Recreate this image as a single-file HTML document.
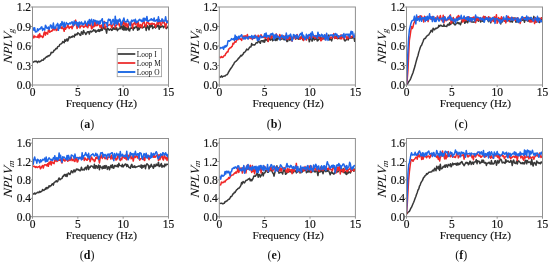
<!DOCTYPE html>
<html><head><meta charset="utf-8"><style>
html,body{margin:0;padding:0;background:#fff;width:550px;height:265px;overflow:hidden}
svg{display:block}
.tk{font-family:"Liberation Serif",serif;font-size:11.5px;fill:#111;stroke:#111;stroke-width:0.18px}
.xl{font-family:"Liberation Serif",serif;font-size:11.3px;fill:#111;stroke:#111;stroke-width:0.15px}
.yl{font-family:"Liberation Serif",serif;font-size:12.5px;letter-spacing:0.1px;fill:#111}
.sb{font-size:8.5px;letter-spacing:0}
.pl{font-family:"Liberation Serif",serif;font-size:12px;fill:#111}
.lg{font-family:"Liberation Serif",serif;font-size:7.4px;fill:#111}
</style></head><body>
<svg width="550" height="265" viewBox="0 0 550 265">
<rect width="550" height="265" fill="#fff"/>
<clipPath id="ca"><rect x="32.5" y="7.0" width="136.0" height="78.0"/></clipPath>
<polyline clip-path="url(#ca)" points="32.5,61.99 33.22,62.15 33.94,61.73 34.66,61.28 35.38,61.53 36.1,61.13 36.82,61.8 37.54,62.62 38.26,61.35 38.98,61.22 39.7,61.9 40.42,61.46 41.13,60.95 41.85,60 42.57,60.13 43.29,60.18 44.01,58.62 44.73,58.78 45.45,57.54 46.17,57.32 46.89,56.42 47.61,56.74 48.33,55.57 49.05,55.89 49.77,55.25 50.49,54.4 51.21,52.33 51.93,52.83 52.65,52.45 53.37,51.88 54.09,50.14 54.81,50.15 55.53,49.06 56.25,48.34 56.97,48.74 57.69,46.69 58.4,46.39 59.12,46.22 59.84,44.34 60.56,44.1 61.28,43.76 62,43.18 62.72,41.52 63.44,42.12 64.16,42.74 64.88,39.57 65.6,41.28 66.32,40.08 67.04,38.85 67.76,40.9 68.48,39.2 69.2,36.76 69.92,37.52 70.64,37.71 71.36,36.52 72.08,37.16 72.8,35.97 73.52,36.47 74.24,37.03 74.96,34.2 75.67,35.11 76.39,34.07 77.11,34.72 77.83,32.8 78.55,33.48 79.27,33.85 79.99,35.2 80.71,35.38 81.43,31.87 82.15,32.44 82.87,34.26 83.59,30.48 84.31,32.43 85.03,32.78 85.75,34.5 86.47,33.57 87.19,32 87.91,31.79 88.63,31.8 89.35,34.14 90.07,31.24 90.79,31.26 91.51,32.04 92.22,31.22 92.94,30.95 93.66,29.49 94.38,30.91 95.1,30.14 95.82,32.31 96.54,31.42 97.26,30.29 97.98,31.14 98.7,29.52 99.42,31.42 100.14,29.73 100.86,30.66 101.58,27.6 102.3,30.22 103.02,26.9 103.74,26.31 104.46,29.08 105.18,28.09 105.9,29.78 106.62,33.13 107.34,28.11 108.06,28.42 108.78,29.74 109.49,30.18 110.21,29.06 110.93,28.99 111.65,30.44 112.37,30.11 113.09,27.55 113.81,29.08 114.53,29.24 115.25,27.43 115.97,29.55 116.69,27.7 117.41,30.66 118.13,29.36 118.85,29.16 119.57,28.02 120.29,28.76 121.01,25.66 121.73,27.05 122.45,29.47 123.17,25.35 123.89,30.21 124.61,25.93 125.33,29.99 126.04,27.34 126.76,29.95 127.48,28.86 128.2,26.09 128.92,30.61 129.64,30.89 130.36,28.39 131.08,28.01 131.8,28.16 132.52,26.78 133.24,30.15 133.96,27.41 134.68,28.18 135.4,26.92 136.12,27.16 136.84,26.05 137.56,30.19 138.28,27.83 139,29.64 139.72,28.03 140.44,26.82 141.16,27.39 141.88,26.96 142.6,27.87 143.31,27.19 144.03,27.28 144.75,25.45 145.47,26.36 146.19,30.42 146.91,26.51 147.63,25.84 148.35,28.12 149.07,29.86 149.79,25.05 150.51,27.09 151.23,26.35 151.95,24.42 152.67,28.56 153.39,27.25 154.11,27.37 154.83,25.95 155.55,27.94 156.27,26.23 156.99,26.86 157.71,25.2 158.43,24.98 159.15,29.24 159.87,26.1 160.58,27.41 161.3,26.82 162.02,26.09 162.74,25.94 163.46,27.83 164.18,26.22 164.9,26.43 165.62,26.69 166.34,28.61 167.06,27.73 167.78,27.19 168.5,25.54" fill="none" stroke="#383838" stroke-width="1.5" stroke-linejoin="round"/>
<polyline clip-path="url(#ca)" points="32.5,34.35 33.22,37.69 33.94,37.63 34.66,35.91 35.38,36.83 36.1,37.1 36.82,37.09 37.54,37.14 38.26,35 38.98,37.85 39.7,33.64 40.42,36.7 41.13,36.01 41.85,36.31 42.57,37.5 43.29,36.76 44.01,32.88 44.73,31.9 45.45,35.17 46.17,32.42 46.89,33.35 47.61,34.1 48.33,30.5 49.05,29.51 49.77,32.28 50.49,31.69 51.21,31.03 51.93,31.21 52.65,29.65 53.37,28.45 54.09,30.18 54.81,28.75 55.53,27.49 56.25,30.47 56.97,29.39 57.69,29.87 58.4,27.51 59.12,27.78 59.84,27.02 60.56,26.92 61.28,28.48 62,26.72 62.72,28.61 63.44,28.5 64.16,31.34 64.88,25.32 65.6,29.2 66.32,27.42 67.04,27.47 67.76,24.88 68.48,26.52 69.2,28.55 69.92,27.02 70.64,27.17 71.36,26.4 72.08,28.72 72.8,26.58 73.52,22.73 74.24,25.16 74.96,22.72 75.67,20.14 76.39,25.14 77.11,28.59 77.83,26.16 78.55,23.85 79.27,24.25 79.99,28.1 80.71,26.25 81.43,26.02 82.15,25.8 82.87,25.94 83.59,27.35 84.31,26.85 85.03,26.19 85.75,23.8 86.47,26.69 87.19,24.41 87.91,27.73 88.63,23.25 89.35,25.36 90.07,25.57 90.79,23.06 91.51,28.78 92.22,28.26 92.94,24.6 93.66,26.9 94.38,26.13 95.1,20.45 95.82,25.84 96.54,25.22 97.26,25.46 97.98,23.24 98.7,24.74 99.42,24.88 100.14,27.45 100.86,25.81 101.58,25.14 102.3,28.04 103.02,24.04 103.74,24.34 104.46,21.59 105.18,28.03 105.9,26.86 106.62,26.75 107.34,26.25 108.06,25.16 108.78,25.34 109.49,24.42 110.21,24.49 110.93,24.96 111.65,27.73 112.37,25.88 113.09,24.68 113.81,23.66 114.53,23.53 115.25,27.8 115.97,25.67 116.69,24.81 117.41,23.99 118.13,22.5 118.85,24.48 119.57,26.27 120.29,23.81 121.01,24.11 121.73,24.1 122.45,24.71 123.17,21.4 123.89,24 124.61,22.78 125.33,26.12 126.04,22.9 126.76,25.5 127.48,27.32 128.2,23.73 128.92,23.16 129.64,24.68 130.36,24.29 131.08,22.34 131.8,25.15 132.52,28.16 133.24,23.72 133.96,23.81 134.68,22.15 135.4,24.79 136.12,21.73 136.84,21.98 137.56,26.61 138.28,22.34 139,26.19 139.72,27.04 140.44,24.56 141.16,25.11 141.88,27.83 142.6,23.62 143.31,22.82 144.03,21.32 144.75,24.03 145.47,26.82 146.19,25.79 146.91,22.05 147.63,22.21 148.35,22.88 149.07,24.42 149.79,23.43 150.51,24.23 151.23,24.37 151.95,23.19 152.67,23.68 153.39,24.15 154.11,23.56 154.83,24.69 155.55,27.36 156.27,24.83 156.99,23.76 157.71,20.33 158.43,24.38 159.15,19.78 159.87,20.82 160.58,25.25 161.3,24.94 162.02,23.24 162.74,20.15 163.46,22.77 164.18,22.15 164.9,24.72 165.62,27.9 166.34,23.86 167.06,21.88 167.78,21.09 168.5,23.27" fill="none" stroke="#f02828" stroke-width="1.5" stroke-linejoin="round"/>
<polyline clip-path="url(#ca)" points="32.5,29.74 33.22,27.86 33.94,30.19 34.66,27.76 35.38,31.97 36.1,31.83 36.82,31.83 37.54,28.83 38.26,30.65 38.98,29.38 39.7,28.84 40.42,28.9 41.13,27.16 41.85,26.81 42.57,30.39 43.29,28.51 44.01,29 44.73,30.15 45.45,25.18 46.17,26.65 46.89,28.24 47.61,28.49 48.33,26.95 49.05,29.37 49.77,27.73 50.49,25 51.21,25.33 51.93,28.27 52.65,27.47 53.37,23.02 54.09,28.72 54.81,27.19 55.53,28.42 56.25,25.06 56.97,25.11 57.69,23.39 58.4,30.32 59.12,24.98 59.84,28.26 60.56,23.8 61.28,25.32 62,21.49 62.72,24.12 63.44,26.92 64.16,22.24 64.88,27.04 65.6,25.47 66.32,22.56 67.04,23.66 67.76,23.71 68.48,24.52 69.2,23.47 69.92,22.86 70.64,23.86 71.36,22.32 72.08,21.7 72.8,24.1 73.52,25.88 74.24,20.93 74.96,23.93 75.67,22.51 76.39,21.77 77.11,25.61 77.83,22.67 78.55,26.91 79.27,22.05 79.99,24.49 80.71,23.15 81.43,22 82.15,24.82 82.87,23.21 83.59,24.78 84.31,23.37 85.03,21.12 85.75,23.18 86.47,23.48 87.19,25.38 87.91,21.36 88.63,23.18 89.35,19.55 90.07,24.59 90.79,20.85 91.51,19.26 92.22,22.97 92.94,25.43 93.66,19.76 94.38,20.66 95.1,21.36 95.82,20.5 96.54,23.71 97.26,21.12 97.98,21.27 98.7,24.04 99.42,21.13 100.14,23.66 100.86,20.59 101.58,20.04 102.3,18.66 103.02,26.72 103.74,21.93 104.46,23.15 105.18,22.53 105.9,22.93 106.62,22.67 107.34,26.71 108.06,20.25 108.78,19.09 109.49,20.27 110.21,19.54 110.93,24.08 111.65,24.22 112.37,20.3 113.09,19.34 113.81,21.59 114.53,25.4 115.25,16.14 115.97,23.47 116.69,19.93 117.41,24.56 118.13,19.89 118.85,21.61 119.57,18.91 120.29,20.05 121.01,25.23 121.73,23.97 122.45,21.26 123.17,20.21 123.89,17.94 124.61,21.22 125.33,22 126.04,21.85 126.76,21.79 127.48,19.51 128.2,21.78 128.92,21.81 129.64,24.68 130.36,25.9 131.08,21.49 131.8,20.08 132.52,21.58 133.24,20.35 133.96,20.02 134.68,21.49 135.4,19.29 136.12,22.88 136.84,21.29 137.56,22.03 138.28,21.04 139,19.81 139.72,19.29 140.44,20.82 141.16,20.1 141.88,21.79 142.6,21.23 143.31,18.2 144.03,21.32 144.75,18.17 145.47,19.74 146.19,20.42 146.91,16.44 147.63,21.2 148.35,21.3 149.07,20.58 149.79,19.95 150.51,20.03 151.23,18.66 151.95,20.19 152.67,19.53 153.39,20.93 154.11,18.01 154.83,21.18 155.55,20.94 156.27,20.27 156.99,19.57 157.71,21.75 158.43,16.77 159.15,21.48 159.87,20.96 160.58,21.01 161.3,21.2 162.02,18.85 162.74,19.69 163.46,21.67 164.18,21.17 164.9,20.64 165.62,16.74 166.34,21.31 167.06,22.7 167.78,22.3 168.5,20.53" fill="none" stroke="#1f66e8" stroke-width="1.5" stroke-linejoin="round"/>
<rect x="32.5" y="7.0" width="136.0" height="78.0" fill="none" stroke="#909090" stroke-width="1"/>
<line x1="30.5" y1="85" x2="32.5" y2="85" stroke="#909090" stroke-width="1"/>
<text x="31" y="89.1" text-anchor="end" class="tk">0.0</text>
<line x1="30.5" y1="65.5" x2="32.5" y2="65.5" stroke="#909090" stroke-width="1"/>
<text x="31" y="69.6" text-anchor="end" class="tk">0.3</text>
<line x1="30.5" y1="46" x2="32.5" y2="46" stroke="#909090" stroke-width="1"/>
<text x="31" y="50.1" text-anchor="end" class="tk">0.6</text>
<line x1="30.5" y1="26.5" x2="32.5" y2="26.5" stroke="#909090" stroke-width="1"/>
<text x="31" y="30.6" text-anchor="end" class="tk">0.9</text>
<line x1="30.5" y1="7" x2="32.5" y2="7" stroke="#909090" stroke-width="1"/>
<text x="31" y="11.1" text-anchor="end" class="tk">1.2</text>
<line x1="32.5" y1="85.0" x2="32.5" y2="87.0" stroke="#909090" stroke-width="1"/>
<text x="32.5" y="96.2" text-anchor="middle" class="tk">0</text>
<line x1="77.83" y1="85.0" x2="77.83" y2="87.0" stroke="#909090" stroke-width="1"/>
<text x="77.83" y="96.2" text-anchor="middle" class="tk">5</text>
<line x1="123.17" y1="85.0" x2="123.17" y2="87.0" stroke="#909090" stroke-width="1"/>
<text x="123.17" y="96.2" text-anchor="middle" class="tk">10</text>
<line x1="168.5" y1="85.0" x2="168.5" y2="87.0" stroke="#909090" stroke-width="1"/>
<text x="168.5" y="96.2" text-anchor="middle" class="tk">15</text>
<text x="101.3" y="107" text-anchor="middle" class="xl">Frequency (Hz)</text>
<text transform="translate(11.7,46.5) rotate(-90) skewX(-16)" text-anchor="middle" class="yl">NPLV<tspan class="sb" dy="1.8" dx="-0.8">g</tspan></text>
<text x="87.2" y="127.5" text-anchor="middle" class="pl">(<tspan font-weight="bold">a</tspan>)</text>
<clipPath id="cb"><rect x="219.3" y="7.0" width="136.09999999999997" height="78.0"/></clipPath>
<polyline clip-path="url(#cb)" points="219.3,76.29 220.02,77.34 220.74,76.88 221.46,75.88 222.18,77.1 222.9,76.38 223.62,76.25 224.34,76.01 225.06,76.12 225.78,75.16 226.5,74.88 227.22,74.5 227.94,73.35 228.66,71.89 229.38,70.78 230.1,69.45 230.82,68.46 231.54,67.56 232.26,66.38 232.98,65.12 233.7,64.22 234.42,62.51 235.14,61.96 235.86,61.48 236.58,60.61 237.3,60.03 238.02,58.96 238.74,57.97 239.46,57.69 240.18,56.32 240.9,55.32 241.62,55.92 242.34,54.84 243.06,54.34 243.78,52.44 244.5,52.51 245.22,51.64 245.94,50.75 246.66,49.13 247.38,49.64 248.1,49.74 248.82,48.69 249.54,47.29 250.26,46.98 250.98,46.84 251.7,43.46 252.42,45.05 253.14,45.09 253.87,44.7 254.59,45.07 255.31,44.08 256.03,42.87 256.75,42.58 257.47,42.89 258.19,41.23 258.91,41.55 259.63,42.36 260.35,43.3 261.07,40.74 261.79,40.64 262.51,40.71 263.23,42.09 263.95,40.3 264.67,42.12 265.39,38.97 266.11,39.89 266.83,39.8 267.55,40.98 268.27,41.24 268.99,37.93 269.71,38.61 270.43,40.12 271.15,38.78 271.87,37.6 272.59,40.79 273.31,40.02 274.03,39.94 274.75,38.62 275.47,40.47 276.19,38.76 276.91,40.48 277.63,37.77 278.35,37.82 279.07,39.2 279.79,37.95 280.51,39.76 281.23,39.17 281.95,37.55 282.67,38.86 283.39,38.25 284.11,39.92 284.83,37.81 285.55,38.03 286.27,40.22 286.99,41.57 287.71,41.22 288.43,38.58 289.15,38.75 289.87,40.5 290.59,38.22 291.31,37.03 292.03,38.49 292.75,38.95 293.47,37.17 294.19,36.03 294.91,36.32 295.63,39.24 296.35,37.26 297.07,38.11 297.79,38.6 298.51,39.16 299.23,37.83 299.95,38.99 300.67,37.06 301.39,37.79 302.11,36.86 302.83,39.86 303.55,38.24 304.27,37.25 304.99,37.79 305.71,37.97 306.43,39.24 307.15,36.05 307.87,36.82 308.59,37.74 309.31,41.78 310.03,39.59 310.75,38.1 311.47,39.24 312.19,41.11 312.91,37.92 313.63,37.73 314.35,39.92 315.07,38.92 315.79,39.17 316.51,37.52 317.23,40.9 317.95,40.6 318.67,39.01 319.39,39.17 320.11,35.39 320.83,39.1 321.56,37.94 322.28,38.81 323,39.15 323.72,37.72 324.44,35.84 325.16,38.71 325.88,37.16 326.6,37.73 327.32,37.34 328.04,37.71 328.76,34.96 329.48,39.87 330.2,38.53 330.92,39.72 331.64,40.93 332.36,38.2 333.08,35.65 333.8,36.91 334.52,36.47 335.24,37.45 335.96,38.26 336.68,35.36 337.4,38.62 338.12,36.03 338.84,38.55 339.56,37.98 340.28,37.69 341,38.03 341.72,37.37 342.44,37.27 343.16,35.77 343.88,38.08 344.6,40.69 345.32,40.87 346.04,39.95 346.76,39.09 347.48,37.16 348.2,40.11 348.92,38.02 349.64,38 350.36,37.68 351.08,38.22 351.8,37.48 352.52,37.96 353.24,36.56 353.96,37.55 354.68,41.26 355.4,37.97" fill="none" stroke="#383838" stroke-width="1.5" stroke-linejoin="round"/>
<polyline clip-path="url(#cb)" points="219.3,56.59 220.02,57.4 220.74,57.72 221.46,56.43 222.18,57.34 222.9,57.39 223.62,56.31 224.34,55.5 225.06,55.57 225.78,53.42 226.5,53.01 227.22,51.7 227.94,52.02 228.66,48.87 229.38,48.72 230.1,47.84 230.82,47.73 231.54,46.77 232.26,46.41 232.98,43.24 233.7,44.07 234.42,42.44 235.14,41.53 235.86,42.22 236.58,40.23 237.3,38.51 238.02,39.65 238.74,37.87 239.46,38.21 240.18,39.3 240.9,39.03 241.62,40.54 242.34,37.96 243.06,35.98 243.78,36.8 244.5,36.3 245.22,35.68 245.94,38.23 246.66,36.52 247.38,34.42 248.1,38.62 248.82,37.35 249.54,38.08 250.26,37.68 250.98,38.5 251.7,37.56 252.42,39.44 253.14,38.16 253.87,38.11 254.59,38.13 255.31,35.19 256.03,37.21 256.75,37.06 257.47,37.79 258.19,35.32 258.91,40.03 259.63,37.61 260.35,35.54 261.07,34.75 261.79,36.99 262.51,37.29 263.23,36.29 263.95,37.57 264.67,36.41 265.39,38.28 266.11,36.26 266.83,37.34 267.55,38.94 268.27,41.45 268.99,35.8 269.71,36.65 270.43,36.05 271.15,38.61 271.87,35.56 272.59,36.6 273.31,37.31 274.03,35.81 274.75,35.84 275.47,36.59 276.19,34.02 276.91,35.05 277.63,36.68 278.35,37.56 279.07,37.03 279.79,34.52 280.51,36.58 281.23,38.58 281.95,38.19 282.67,37.18 283.39,35.9 284.11,38.3 284.83,36.38 285.55,35.44 286.27,36.02 286.99,39.57 287.71,37.63 288.43,39.11 289.15,36.51 289.87,38.75 290.59,36.31 291.31,37.01 292.03,41.19 292.75,38.46 293.47,36.45 294.19,37.11 294.91,37.75 295.63,39.15 296.35,36.45 297.07,34.47 297.79,36.78 298.51,37.24 299.23,37.39 299.95,39.3 300.67,37.71 301.39,38.49 302.11,35.45 302.83,38.57 303.55,40.51 304.27,38.41 304.99,37.58 305.71,37.42 306.43,40.01 307.15,35.7 307.87,36.99 308.59,37.89 309.31,38.34 310.03,36.46 310.75,37.64 311.47,36.7 312.19,37.33 312.91,36.93 313.63,35.32 314.35,37.1 315.07,38.52 315.79,35.59 316.51,36.73 317.23,38.17 317.95,35.41 318.67,37.39 319.39,35.42 320.11,38.9 320.83,40.77 321.56,40.3 322.28,36.74 323,38.26 323.72,37.27 324.44,37.23 325.16,39.53 325.88,34.97 326.6,38.74 327.32,36.98 328.04,39.29 328.76,37.35 329.48,35.97 330.2,37.48 330.92,38.21 331.64,37.09 332.36,37.8 333.08,36.19 333.8,33.63 334.52,38.45 335.24,38.12 335.96,37.24 336.68,37.11 337.4,38.65 338.12,36.27 338.84,35.87 339.56,36.69 340.28,38.88 341,34.77 341.72,38.87 342.44,35.95 343.16,35.22 343.88,38.97 344.6,36.81 345.32,34.89 346.04,36.38 346.76,38.43 347.48,38.84 348.2,36.26 348.92,37.58 349.64,38.07 350.36,35.9 351.08,37.49 351.8,36.87 352.52,36.06 353.24,36.13 353.96,37.01 354.68,36.95 355.4,36" fill="none" stroke="#f02828" stroke-width="1.5" stroke-linejoin="round"/>
<polyline clip-path="url(#cb)" points="219.3,47.35 220.02,48.76 220.74,47.46 221.46,47.9 222.18,47.89 222.9,46.99 223.62,49.25 224.34,46.1 225.06,47.26 225.78,45.6 226.5,46.44 227.22,45.11 227.94,41.01 228.66,40.74 229.38,41.21 230.1,40.46 230.82,40.06 231.54,38.6 232.26,39.08 232.98,39.5 233.7,38.45 234.42,40.46 235.14,35.12 235.86,39.32 236.58,36.64 237.3,39.42 238.02,37.43 238.74,36.18 239.46,38.17 240.18,35.95 240.9,35.88 241.62,34.71 242.34,37.24 243.06,38.06 243.78,38.93 244.5,36.9 245.22,38.99 245.94,37.17 246.66,36.96 247.38,38.13 248.1,38.98 248.82,36.49 249.54,36.66 250.26,36.8 250.98,37.22 251.7,35.47 252.42,38.88 253.14,36.34 253.87,37.86 254.59,35.57 255.31,37.66 256.03,37.71 256.75,36.26 257.47,40.58 258.19,37.64 258.91,40.13 259.63,38.67 260.35,35.78 261.07,36.27 261.79,37.72 262.51,37.04 263.23,37.01 263.95,36.41 264.67,33.69 265.39,36.5 266.11,32.95 266.83,37.54 267.55,35.58 268.27,35.59 268.99,36.46 269.71,37.33 270.43,34.29 271.15,33.72 271.87,34.92 272.59,33.18 273.31,35.08 274.03,39.62 274.75,34.9 275.47,37.94 276.19,34.32 276.91,37.29 277.63,36.18 278.35,36.63 279.07,37.74 279.79,39.85 280.51,37.06 281.23,36.93 281.95,34.96 282.67,37.73 283.39,36.24 284.11,38.15 284.83,36.58 285.55,39.76 286.27,33.1 286.99,36.1 287.71,38.2 288.43,35.99 289.15,35.19 289.87,36.12 290.59,34.12 291.31,36.79 292.03,40.92 292.75,38.6 293.47,34.57 294.19,34.97 294.91,35.79 295.63,38.29 296.35,35.02 297.07,35.24 297.79,38.03 298.51,37.98 299.23,35.76 299.95,34.41 300.67,33.63 301.39,35.13 302.11,32.38 302.83,37.69 303.55,35.21 304.27,37.18 304.99,39.65 305.71,38.39 306.43,34.22 307.15,37.82 307.87,38.32 308.59,34.9 309.31,34.51 310.03,36.01 310.75,33.32 311.47,38.81 312.19,31.84 312.91,34.16 313.63,35.65 314.35,35.71 315.07,36.4 315.79,36.57 316.51,35.69 317.23,38.1 317.95,32.19 318.67,36.03 319.39,34.73 320.11,36.24 320.83,36.38 321.56,34.32 322.28,34.8 323,37.37 323.72,36.55 324.44,34.68 325.16,39.58 325.88,40.05 326.6,33.22 327.32,36.4 328.04,40.37 328.76,37.24 329.48,36.21 330.2,35.41 330.92,34.8 331.64,35.38 332.36,34.75 333.08,37.08 333.8,35 334.52,34.9 335.24,33.51 335.96,35.58 336.68,34.04 337.4,35.32 338.12,37.52 338.84,36.28 339.56,36.52 340.28,36.23 341,35.68 341.72,35.32 342.44,34.98 343.16,36.91 343.88,33.54 344.6,37.94 345.32,35.54 346.04,34.1 346.76,34.56 347.48,34.2 348.2,35.71 348.92,34.1 349.64,37.48 350.36,33.95 351.08,31.22 351.8,34.01 352.52,31.67 353.24,35.25 353.96,37.24 354.68,36.47 355.4,32.83" fill="none" stroke="#1f66e8" stroke-width="1.5" stroke-linejoin="round"/>
<rect x="219.3" y="7.0" width="136.09999999999997" height="78.0" fill="none" stroke="#909090" stroke-width="1"/>
<line x1="217.3" y1="85" x2="219.3" y2="85" stroke="#909090" stroke-width="1"/>
<text x="217.8" y="89.1" text-anchor="end" class="tk">0.0</text>
<line x1="217.3" y1="65.5" x2="219.3" y2="65.5" stroke="#909090" stroke-width="1"/>
<text x="217.8" y="69.6" text-anchor="end" class="tk">0.3</text>
<line x1="217.3" y1="46" x2="219.3" y2="46" stroke="#909090" stroke-width="1"/>
<text x="217.8" y="50.1" text-anchor="end" class="tk">0.6</text>
<line x1="217.3" y1="26.5" x2="219.3" y2="26.5" stroke="#909090" stroke-width="1"/>
<text x="217.8" y="30.6" text-anchor="end" class="tk">0.9</text>
<line x1="217.3" y1="7" x2="219.3" y2="7" stroke="#909090" stroke-width="1"/>
<text x="217.8" y="11.1" text-anchor="end" class="tk">1.2</text>
<line x1="219.3" y1="85.0" x2="219.3" y2="87.0" stroke="#909090" stroke-width="1"/>
<text x="219.3" y="96.2" text-anchor="middle" class="tk">0</text>
<line x1="264.67" y1="85.0" x2="264.67" y2="87.0" stroke="#909090" stroke-width="1"/>
<text x="264.67" y="96.2" text-anchor="middle" class="tk">5</text>
<line x1="310.03" y1="85.0" x2="310.03" y2="87.0" stroke="#909090" stroke-width="1"/>
<text x="310.03" y="96.2" text-anchor="middle" class="tk">10</text>
<line x1="355.4" y1="85.0" x2="355.4" y2="87.0" stroke="#909090" stroke-width="1"/>
<text x="355.4" y="96.2" text-anchor="middle" class="tk">15</text>
<text x="288.15" y="107" text-anchor="middle" class="xl">Frequency (Hz)</text>
<text transform="translate(198.5,46.5) rotate(-90) skewX(-16)" text-anchor="middle" class="yl">NPLV<tspan class="sb" dy="1.8" dx="-0.8">g</tspan></text>
<text x="274.05" y="127.5" text-anchor="middle" class="pl">(<tspan font-weight="bold">b</tspan>)</text>
<clipPath id="cc"><rect x="406.5" y="7.0" width="136.0" height="78.0"/></clipPath>
<polyline clip-path="url(#cc)" points="406.5,84.81 407.22,84.64 407.94,83.09 408.66,81.81 409.38,80.83 410.1,79.9 410.82,78.3 411.54,76.28 412.26,74.52 412.98,72.75 413.7,70.3 414.42,67.95 415.13,65.58 415.85,62.6 416.57,59.94 417.29,57.51 418.01,55.52 418.73,52.37 419.45,50.14 420.17,47.72 420.89,45.98 421.61,45.19 422.33,43.31 423.05,41.49 423.77,39.41 424.49,38.58 425.21,38.48 425.93,37.46 426.65,36.06 427.37,35.72 428.09,35.23 428.81,34.78 429.53,33.2 430.25,32.46 430.97,30.41 431.69,30.25 432.4,31.95 433.12,28.22 433.84,29.43 434.56,29.68 435.28,28.82 436,28.14 436.72,28.45 437.44,27.99 438.16,27.42 438.88,25.34 439.6,26.35 440.32,25.23 441.04,25.32 441.76,25.99 442.48,26.26 443.2,26.37 443.92,24.62 444.64,26.18 445.36,26.37 446.08,26.23 446.8,26.43 447.52,24.49 448.24,24.35 448.96,25.44 449.67,22.7 450.39,24.49 451.11,23.49 451.83,23.59 452.55,21.82 453.27,22.76 453.99,23.74 454.71,24.76 455.43,24.79 456.15,23.39 456.87,23.16 457.59,22.27 458.31,23.7 459.03,22.82 459.75,23.64 460.47,24.81 461.19,22.55 461.91,20.65 462.63,21.21 463.35,20.33 464.07,20.48 464.79,23.34 465.51,21.88 466.22,19.61 466.94,22.09 467.66,22.68 468.38,20.55 469.1,20.01 469.82,20.25 470.54,20.98 471.26,21.41 471.98,22.08 472.7,22.07 473.42,21.98 474.14,22.17 474.86,21.18 475.58,18.2 476.3,20.02 477.02,20.56 477.74,19.58 478.46,21.27 479.18,19.5 479.9,18.7 480.62,22.02 481.34,20.93 482.06,20.31 482.78,21.3 483.49,21.49 484.21,20.48 484.93,16.56 485.65,19.05 486.37,19.36 487.09,18.62 487.81,20.28 488.53,21.67 489.25,19.32 489.97,18.41 490.69,22.84 491.41,19.37 492.13,18.27 492.85,20.33 493.57,20.6 494.29,19.01 495.01,21.11 495.73,19.32 496.45,18.71 497.17,20.25 497.89,21.08 498.61,19.11 499.33,20.46 500.04,19.87 500.76,23.95 501.48,19.01 502.2,21.94 502.92,19.93 503.64,19.82 504.36,21.01 505.08,21.25 505.8,21.77 506.52,20.46 507.24,19.16 507.96,19.25 508.68,20.71 509.4,20.81 510.12,21.96 510.84,20.59 511.56,21.48 512.28,22.12 513,20.23 513.72,17.92 514.44,18.35 515.16,17.99 515.88,22.23 516.6,18.81 517.31,21.72 518.03,20.82 518.75,22.4 519.47,21.4 520.19,19.86 520.91,19.72 521.63,20.12 522.35,20.25 523.07,19.26 523.79,19.95 524.51,22.25 525.23,17.62 525.95,20.36 526.67,18.73 527.39,20.26 528.11,21.18 528.83,19.92 529.55,21.08 530.27,17.77 530.99,21.55 531.71,19.16 532.43,20.87 533.15,20.26 533.87,16.38 534.58,18.94 535.3,20.31 536.02,22.18 536.74,20.4 537.46,20.36 538.18,18.02 538.9,22 539.62,22.53 540.34,20.04 541.06,19.69 541.78,17.73 542.5,21.24" fill="none" stroke="#383838" stroke-width="1.5" stroke-linejoin="round"/>
<polyline clip-path="url(#cc)" points="406.5,85.24 407.22,79.7 407.94,70.43 408.66,54.66 409.38,40.3 410.1,35.89 410.82,30.72 411.54,26.46 412.26,28.6 412.98,27.01 413.7,23.48 414.42,22.13 415.13,19.81 415.85,18.39 416.57,19.32 417.29,17.84 418.01,16.66 418.73,16.69 419.45,17.93 420.17,15.76 420.89,16.57 421.61,16.11 422.33,19.02 423.05,19.38 423.77,21.93 424.49,16.35 425.21,17.66 425.93,20.2 426.65,18.4 427.37,18.23 428.09,21.48 428.81,18.22 429.53,16.92 430.25,16.67 430.97,19.31 431.69,19.26 432.4,16.59 433.12,17.21 433.84,19.64 434.56,19.71 435.28,17.77 436,19.79 436.72,19.71 437.44,15.96 438.16,18.31 438.88,19.47 439.6,17.9 440.32,15.41 441.04,18.37 441.76,20.02 442.48,21.35 443.2,15.35 443.92,23 444.64,17.05 445.36,20.37 446.08,20.81 446.8,20.42 447.52,19.09 448.24,17.01 448.96,19.86 449.67,17.73 450.39,14.86 451.11,23.38 451.83,20.01 452.55,21.77 453.27,17.44 453.99,21.22 454.71,21.42 455.43,21.37 456.15,18.87 456.87,16.99 457.59,18.63 458.31,15.41 459.03,16.21 459.75,19.07 460.47,17.35 461.19,18.67 461.91,18.76 462.63,22 463.35,21 464.07,18.87 464.79,20.87 465.51,17.71 466.22,18.42 466.94,20.4 467.66,16.99 468.38,18.52 469.1,16.87 469.82,19.16 470.54,21.57 471.26,17.79 471.98,19.34 472.7,17.56 473.42,17.17 474.14,17.03 474.86,21.31 475.58,22.75 476.3,19.77 477.02,17.87 477.74,20.13 478.46,18.49 479.18,20.29 479.9,19.49 480.62,19.47 481.34,20 482.06,18.12 482.78,18.4 483.49,16.31 484.21,18.35 484.93,16.79 485.65,18.83 486.37,17.54 487.09,19.22 487.81,19.78 488.53,16.82 489.25,17.78 489.97,17.58 490.69,20.26 491.41,21.79 492.13,20.44 492.85,18.54 493.57,21.42 494.29,16.7 495.01,21.48 495.73,18.07 496.45,14.7 497.17,23.32 497.89,21.62 498.61,17.49 499.33,19.39 500.04,18.79 500.76,19.3 501.48,16.79 502.2,18.06 502.92,19.89 503.64,19.5 504.36,21.05 505.08,19.28 505.8,22.88 506.52,18.03 507.24,19.58 507.96,16.14 508.68,17.19 509.4,21.28 510.12,17.69 510.84,20.03 511.56,19.09 512.28,17.54 513,18.65 513.72,18.39 514.44,18.43 515.16,20.4 515.88,20.24 516.6,18.3 517.31,17.78 518.03,19.67 518.75,19.07 519.47,20.86 520.19,23.44 520.91,20.57 521.63,19.19 522.35,18.97 523.07,17.89 523.79,17.82 524.51,17.67 525.23,18.64 525.95,18.59 526.67,20.44 527.39,18.64 528.11,18.96 528.83,17.35 529.55,21.88 530.27,20.09 530.99,22.12 531.71,20.55 532.43,21.65 533.15,18.91 533.87,20.44 534.58,23.58 535.3,17.38 536.02,21.18 536.74,22 537.46,19.99 538.18,20.54 538.9,21.35 539.62,18.28 540.34,20 541.06,17.94 541.78,18.25 542.5,18.35" fill="none" stroke="#f02828" stroke-width="1.5" stroke-linejoin="round"/>
<polyline clip-path="url(#cc)" points="406.5,84.99 407.22,68 407.94,50.45 408.66,37.8 409.38,29.97 410.1,26.82 410.82,23.86 411.54,21.69 412.26,20.49 412.98,20.37 413.7,19.67 414.42,16.17 415.13,19.69 415.85,23.87 416.57,14.94 417.29,20.29 418.01,19.12 418.73,18.24 419.45,21.03 420.17,16.25 420.89,18.79 421.61,21.24 422.33,18.14 423.05,17.73 423.77,18.75 424.49,17.71 425.21,21.46 425.93,16.87 426.65,20.22 427.37,16.24 428.09,19.86 428.81,18.42 429.53,13.78 430.25,18.63 430.97,16.65 431.69,17.83 432.4,21.56 433.12,16.6 433.84,16.71 434.56,21.42 435.28,18.94 436,21.62 436.72,19.34 437.44,17.09 438.16,18.63 438.88,21.07 439.6,20.54 440.32,18.78 441.04,18.88 441.76,18.59 442.48,17.72 443.2,22.44 443.92,18.84 444.64,16.71 445.36,17.94 446.08,20.21 446.8,20.06 447.52,18.61 448.24,17.62 448.96,18.93 449.67,15.75 450.39,16.46 451.11,20.4 451.83,18.02 452.55,19.63 453.27,21.22 453.99,20.16 454.71,18.99 455.43,22.94 456.15,20.22 456.87,18.31 457.59,20.36 458.31,19.76 459.03,17.4 459.75,19.15 460.47,18.71 461.19,15.35 461.91,18.71 462.63,18.52 463.35,18.23 464.07,15.99 464.79,18.41 465.51,19.01 466.22,19.28 466.94,16.98 467.66,20.29 468.38,16.84 469.1,18.71 469.82,21.57 470.54,17.85 471.26,18.2 471.98,21.16 472.7,18.45 473.42,18.62 474.14,19.6 474.86,21.15 475.58,15.09 476.3,17.66 477.02,17.34 477.74,17.21 478.46,17.64 479.18,17.68 479.9,19.81 480.62,17.61 481.34,19.5 482.06,20.02 482.78,17.93 483.49,19.54 484.21,22.34 484.93,19.91 485.65,18.14 486.37,19.21 487.09,17.64 487.81,19.85 488.53,20.95 489.25,17.85 489.97,18.99 490.69,21.44 491.41,18.47 492.13,19.75 492.85,17.51 493.57,17.9 494.29,18.48 495.01,23.37 495.73,18.7 496.45,18.49 497.17,18.44 497.89,19.17 498.61,20.66 499.33,19.83 500.04,23.21 500.76,19.89 501.48,22.12 502.2,20.02 502.92,20.62 503.64,16.93 504.36,19.31 505.08,19.43 505.8,19.12 506.52,15.69 507.24,21.17 507.96,18.89 508.68,18.81 509.4,19.14 510.12,19.2 510.84,20.36 511.56,17.34 512.28,17.96 513,20.17 513.72,19.92 514.44,18.99 515.16,18.64 515.88,18.18 516.6,19.59 517.31,21.83 518.03,17.8 518.75,22.46 519.47,21.24 520.19,18.92 520.91,21.15 521.63,17.11 522.35,16.64 523.07,17.45 523.79,19.04 524.51,19.2 525.23,18.87 525.95,19.98 526.67,15.97 527.39,20.71 528.11,17.28 528.83,18.65 529.55,19.1 530.27,17.78 530.99,17.4 531.71,18.06 532.43,19.86 533.15,20.95 533.87,20.91 534.58,18.12 535.3,18.49 536.02,18.27 536.74,20.74 537.46,16.28 538.18,22.17 538.9,19.09 539.62,18.56 540.34,20.58 541.06,21.83 541.78,20.61 542.5,21.89" fill="none" stroke="#1f66e8" stroke-width="1.5" stroke-linejoin="round"/>
<rect x="406.5" y="7.0" width="136.0" height="78.0" fill="none" stroke="#909090" stroke-width="1"/>
<line x1="404.5" y1="85" x2="406.5" y2="85" stroke="#909090" stroke-width="1"/>
<text x="405" y="89.1" text-anchor="end" class="tk">0.0</text>
<line x1="404.5" y1="65.5" x2="406.5" y2="65.5" stroke="#909090" stroke-width="1"/>
<text x="405" y="69.6" text-anchor="end" class="tk">0.3</text>
<line x1="404.5" y1="46" x2="406.5" y2="46" stroke="#909090" stroke-width="1"/>
<text x="405" y="50.1" text-anchor="end" class="tk">0.6</text>
<line x1="404.5" y1="26.5" x2="406.5" y2="26.5" stroke="#909090" stroke-width="1"/>
<text x="405" y="30.6" text-anchor="end" class="tk">0.9</text>
<line x1="404.5" y1="7" x2="406.5" y2="7" stroke="#909090" stroke-width="1"/>
<text x="405" y="11.1" text-anchor="end" class="tk">1.2</text>
<line x1="406.5" y1="85.0" x2="406.5" y2="87.0" stroke="#909090" stroke-width="1"/>
<text x="406.5" y="96.2" text-anchor="middle" class="tk">0</text>
<line x1="451.83" y1="85.0" x2="451.83" y2="87.0" stroke="#909090" stroke-width="1"/>
<text x="451.83" y="96.2" text-anchor="middle" class="tk">5</text>
<line x1="497.17" y1="85.0" x2="497.17" y2="87.0" stroke="#909090" stroke-width="1"/>
<text x="497.17" y="96.2" text-anchor="middle" class="tk">10</text>
<line x1="542.5" y1="85.0" x2="542.5" y2="87.0" stroke="#909090" stroke-width="1"/>
<text x="542.5" y="96.2" text-anchor="middle" class="tk">15</text>
<text x="475.3" y="107" text-anchor="middle" class="xl">Frequency (Hz)</text>
<text transform="translate(385.7,46.5) rotate(-90) skewX(-16)" text-anchor="middle" class="yl">NPLV<tspan class="sb" dy="1.8" dx="-0.8">g</tspan></text>
<text x="461.2" y="127.5" text-anchor="middle" class="pl">(<tspan font-weight="bold">c</tspan>)</text>
<clipPath id="cd"><rect x="32.5" y="138.5" width="136.0" height="78.19999999999999"/></clipPath>
<polyline clip-path="url(#cd)" points="32.5,193.15 33.22,193.91 33.94,193.92 34.66,192.99 35.38,194.06 36.1,193.17 36.82,193.09 37.54,192.25 38.26,192.36 38.98,192.73 39.7,191.23 40.42,192.15 41.13,191.71 41.85,191.32 42.57,189.51 43.29,190.37 44.01,190.46 44.73,189.24 45.45,189.39 46.17,187.51 46.89,188.77 47.61,187.47 48.33,187.87 49.05,185.7 49.77,186.74 50.49,185.63 51.21,185.76 51.93,184.1 52.65,183.76 53.37,185.12 54.09,182.52 54.81,182.05 55.53,181.81 56.25,180.73 56.97,181.78 57.69,181.65 58.4,179.31 59.12,177.97 59.84,179.75 60.56,179.28 61.28,178.61 62,178.45 62.72,176.3 63.44,176.44 64.16,174.94 64.88,174.46 65.6,176.15 66.32,174.23 67.04,176.48 67.76,174.04 68.48,172.93 69.2,173.91 69.92,174.52 70.64,172.86 71.36,170.78 72.08,171.99 72.8,172.7 73.52,170.43 74.24,169.92 74.96,171.87 75.67,170.66 76.39,169.01 77.11,169.7 77.83,169.08 78.55,170.18 79.27,169.81 79.99,170.95 80.71,170.26 81.43,167.29 82.15,169.6 82.87,170.06 83.59,169.37 84.31,169.99 85.03,167.85 85.75,167.23 86.47,169.63 87.19,166.9 87.91,165.36 88.63,169.51 89.35,167.09 90.07,167.56 90.79,166.01 91.51,166.02 92.22,166.16 92.94,167.14 93.66,168.04 94.38,164.31 95.1,168.45 95.82,165.71 96.54,165.82 97.26,168.18 97.98,167.08 98.7,165 99.42,169.65 100.14,165.82 100.86,167.32 101.58,167.19 102.3,168.84 103.02,166.16 103.74,168.22 104.46,165.68 105.18,168.34 105.9,165.6 106.62,166.15 107.34,169.38 108.06,167.08 108.78,166.76 109.49,169.81 110.21,167.07 110.93,165.35 111.65,167.56 112.37,164.77 113.09,168.08 113.81,168.17 114.53,165.57 115.25,165.46 115.97,166.6 116.69,166.34 117.41,164.88 118.13,167.1 118.85,163.29 119.57,165.6 120.29,165.61 121.01,165.78 121.73,166.6 122.45,164.34 123.17,166.96 123.89,165.82 124.61,165.11 125.33,164.04 126.04,164.29 126.76,166.54 127.48,164.58 128.2,166.07 128.92,167.51 129.64,167.45 130.36,168.21 131.08,165.46 131.8,164.29 132.52,167.36 133.24,166.3 133.96,167.48 134.68,165.82 135.4,167.55 136.12,167.02 136.84,166.81 137.56,166.48 138.28,166.3 139,166.04 139.72,166.01 140.44,167.12 141.16,164.88 141.88,168.24 142.6,165.48 143.31,167.12 144.03,165.5 144.75,165.27 145.47,168.69 146.19,165.18 146.91,163.72 147.63,164.57 148.35,165.16 149.07,168.87 149.79,165.95 150.51,167.04 151.23,164.14 151.95,166.17 152.67,166.65 153.39,168.34 154.11,164.6 154.83,166.54 155.55,166.09 156.27,164.11 156.99,165.61 157.71,165.24 158.43,162.15 159.15,166.51 159.87,166.33 160.58,164.86 161.3,163.51 162.02,167.29 162.74,165.51 163.46,166.44 164.18,166.88 164.9,164.08 165.62,165.83 166.34,164.25 167.06,164.39 167.78,164.25 168.5,164.26" fill="none" stroke="#383838" stroke-width="1.5" stroke-linejoin="round"/>
<polyline clip-path="url(#cd)" points="32.5,166.9 33.22,166.17 33.94,166.24 34.66,166.5 35.38,167.57 36.1,166.59 36.82,167.21 37.54,167.56 38.26,166.67 38.98,166.9 39.7,166.03 40.42,168.84 41.13,167.77 41.85,166.45 42.57,165.58 43.29,168.12 44.01,165.54 44.73,164.77 45.45,165.01 46.17,164.75 46.89,165.9 47.61,163.82 48.33,166.28 49.05,162.18 49.77,163.96 50.49,161.5 51.21,164.97 51.93,161.88 52.65,162.1 53.37,163.34 54.09,163.66 54.81,160.12 55.53,161.06 56.25,159.39 56.97,161.44 57.69,160.93 58.4,160.46 59.12,159.87 59.84,160.27 60.56,159.65 61.28,161.58 62,163.07 62.72,157.6 63.44,160.39 64.16,159.84 64.88,161.19 65.6,158.86 66.32,160.05 67.04,158.57 67.76,161.22 68.48,160.21 69.2,159.73 69.92,160.49 70.64,159.45 71.36,157.31 72.08,160.64 72.8,160.11 73.52,159.35 74.24,161.18 74.96,161.53 75.67,157.71 76.39,158.19 77.11,161.96 77.83,161.72 78.55,158.15 79.27,157.39 79.99,158.24 80.71,158.44 81.43,156.62 82.15,159.24 82.87,157.04 83.59,157.12 84.31,160.59 85.03,157.92 85.75,158.89 86.47,160.01 87.19,160.28 87.91,158.35 88.63,158.94 89.35,157.47 90.07,161.69 90.79,159.84 91.51,156.9 92.22,158.7 92.94,159.84 93.66,159.42 94.38,161.63 95.1,160.83 95.82,157.62 96.54,158.34 97.26,156.31 97.98,158.86 98.7,158.67 99.42,162.94 100.14,158.53 100.86,154.82 101.58,157.19 102.3,158.49 103.02,156.15 103.74,156.78 104.46,157.61 105.18,158.78 105.9,157.89 106.62,156.65 107.34,159.46 108.06,157.19 108.78,157.23 109.49,155.72 110.21,156.7 110.93,159.11 111.65,155.24 112.37,157.83 113.09,159.15 113.81,157.27 114.53,158.29 115.25,155.96 115.97,160.06 116.69,159.68 117.41,158.18 118.13,154.78 118.85,155.96 119.57,159.37 120.29,160.6 121.01,158.17 121.73,159.76 122.45,156.58 123.17,157.27 123.89,157.58 124.61,158.3 125.33,154.92 126.04,159.17 126.76,159.82 127.48,155.54 128.2,155.17 128.92,158.11 129.64,156.36 130.36,153.39 131.08,158.87 131.8,157.73 132.52,156.62 133.24,161.09 133.96,157.67 134.68,156.11 135.4,157.58 136.12,155.59 136.84,156.06 137.56,158.04 138.28,156.4 139,156.57 139.72,160.23 140.44,158.82 141.16,158.71 141.88,158.22 142.6,158.13 143.31,159.81 144.03,157.24 144.75,160.48 145.47,155.6 146.19,156.8 146.91,154.84 147.63,156.62 148.35,158.11 149.07,159.71 149.79,156.03 150.51,157.18 151.23,156.54 151.95,155.87 152.67,155.07 153.39,157.24 154.11,154.11 154.83,157.3 155.55,157.13 156.27,155.94 156.99,155.32 157.71,154.66 158.43,160.31 159.15,154.71 159.87,159.74 160.58,158.07 161.3,156.38 162.02,154.98 162.74,158.8 163.46,159.99 164.18,155.34 164.9,156.43 165.62,158.78 166.34,157.52 167.06,160.41 167.78,155.92 168.5,157.85" fill="none" stroke="#f02828" stroke-width="1.5" stroke-linejoin="round"/>
<polyline clip-path="url(#cd)" points="32.5,159.05 33.22,164.2 33.94,159.51 34.66,156.95 35.38,160.11 36.1,159.9 36.82,163.2 37.54,159.27 38.26,159.87 38.98,161 39.7,162.85 40.42,159.77 41.13,161.83 41.85,160.86 42.57,159.34 43.29,160.03 44.01,159.86 44.73,158.12 45.45,161.74 46.17,157.11 46.89,161.48 47.61,161.01 48.33,159.08 49.05,157.81 49.77,158.66 50.49,159.8 51.21,160.19 51.93,159.31 52.65,160.5 53.37,157.64 54.09,159 54.81,155.67 55.53,159.81 56.25,158.63 56.97,157.53 57.69,160.31 58.4,159.39 59.12,152.94 59.84,158.06 60.56,155.26 61.28,159.79 62,162.31 62.72,156.75 63.44,157.75 64.16,157.08 64.88,158.11 65.6,158.57 66.32,159.68 67.04,155.42 67.76,160.05 68.48,155.37 69.2,157.52 69.92,159.07 70.64,158.18 71.36,155.04 72.08,155.38 72.8,155.77 73.52,156.54 74.24,158.84 74.96,154.09 75.67,157.48 76.39,157.74 77.11,157.62 77.83,157.42 78.55,159.44 79.27,157.42 79.99,158.12 80.71,157.52 81.43,159.9 82.15,152.68 82.87,158.86 83.59,155.83 84.31,155.77 85.03,154.41 85.75,152.63 86.47,155.51 87.19,154.89 87.91,157.18 88.63,153.32 89.35,158.97 90.07,156.68 90.79,155.65 91.51,154.72 92.22,154.55 92.94,153.85 93.66,154.98 94.38,156.04 95.1,155.66 95.82,153.21 96.54,155.44 97.26,154.19 97.98,156.24 98.7,159.58 99.42,157.12 100.14,155.26 100.86,152.65 101.58,153.05 102.3,152.49 103.02,157.23 103.74,154.27 104.46,155.89 105.18,154.52 105.9,155.91 106.62,158.48 107.34,154.34 108.06,155 108.78,154.06 109.49,157.37 110.21,153.59 110.93,153.36 111.65,152.83 112.37,152.77 113.09,156.48 113.81,160.62 114.53,153.54 115.25,157.38 115.97,155.97 116.69,153.27 117.41,154.89 118.13,154.96 118.85,154.03 119.57,159.22 120.29,151.58 121.01,156.1 121.73,155.99 122.45,154.16 123.17,155.59 123.89,157.04 124.61,155.58 125.33,156.11 126.04,156.65 126.76,151.17 127.48,158.22 128.2,159.82 128.92,157.2 129.64,157.26 130.36,152.39 131.08,154.97 131.8,153.57 132.52,154.01 133.24,157.13 133.96,153.56 134.68,154.91 135.4,151.33 136.12,154.84 136.84,155.33 137.56,153.73 138.28,153.69 139,158.93 139.72,152.69 140.44,153 141.16,153.48 141.88,157.51 142.6,159.33 143.31,155.75 144.03,153.63 144.75,154.21 145.47,157.21 146.19,153.22 146.91,157.98 147.63,157.9 148.35,155.18 149.07,156.33 149.79,156.53 150.51,158.15 151.23,152.88 151.95,157.38 152.67,154.23 153.39,153.43 154.11,155.18 154.83,154.54 155.55,152.97 156.27,151.73 156.99,153.04 157.71,157.87 158.43,158.9 159.15,156.24 159.87,157.31 160.58,153.87 161.3,154.75 162.02,155.47 162.74,152.7 163.46,152.88 164.18,155.07 164.9,154.22 165.62,152.71 166.34,155.63 167.06,154.31 167.78,156.9 168.5,154.82" fill="none" stroke="#1f66e8" stroke-width="1.5" stroke-linejoin="round"/>
<rect x="32.5" y="138.5" width="136.0" height="78.19999999999999" fill="none" stroke="#909090" stroke-width="1"/>
<line x1="30.5" y1="216.7" x2="32.5" y2="216.7" stroke="#909090" stroke-width="1"/>
<text x="31" y="220.8" text-anchor="end" class="tk">0.0</text>
<line x1="30.5" y1="198.3" x2="32.5" y2="198.3" stroke="#909090" stroke-width="1"/>
<text x="31" y="202.4" text-anchor="end" class="tk">0.4</text>
<line x1="30.5" y1="179.9" x2="32.5" y2="179.9" stroke="#909090" stroke-width="1"/>
<text x="31" y="184" text-anchor="end" class="tk">0.8</text>
<line x1="30.5" y1="161.5" x2="32.5" y2="161.5" stroke="#909090" stroke-width="1"/>
<text x="31" y="165.6" text-anchor="end" class="tk">1.2</text>
<line x1="30.5" y1="143.1" x2="32.5" y2="143.1" stroke="#909090" stroke-width="1"/>
<text x="31" y="147.2" text-anchor="end" class="tk">1.6</text>
<line x1="32.5" y1="216.7" x2="32.5" y2="218.7" stroke="#909090" stroke-width="1"/>
<text x="32.5" y="227.9" text-anchor="middle" class="tk">0</text>
<line x1="77.83" y1="216.7" x2="77.83" y2="218.7" stroke="#909090" stroke-width="1"/>
<text x="77.83" y="227.9" text-anchor="middle" class="tk">5</text>
<line x1="123.17" y1="216.7" x2="123.17" y2="218.7" stroke="#909090" stroke-width="1"/>
<text x="123.17" y="227.9" text-anchor="middle" class="tk">10</text>
<line x1="168.5" y1="216.7" x2="168.5" y2="218.7" stroke="#909090" stroke-width="1"/>
<text x="168.5" y="227.9" text-anchor="middle" class="tk">15</text>
<text x="101.3" y="238.7" text-anchor="middle" class="xl">Frequency (Hz)</text>
<text transform="translate(11.7,179.4) rotate(-90) skewX(-16)" text-anchor="middle" class="yl">NPLV<tspan class="sb" dy="1.8" dx="-0.8">m</tspan></text>
<text x="87.2" y="259.2" text-anchor="middle" class="pl">(<tspan font-weight="bold">d</tspan>)</text>
<clipPath id="ce"><rect x="219.3" y="138.5" width="136.09999999999997" height="78.19999999999999"/></clipPath>
<polyline clip-path="url(#ce)" points="219.3,203.08 220.02,203.39 220.74,203.36 221.46,203.24 222.18,203.46 222.9,203.89 223.62,203.37 224.34,203.18 225.06,201.59 225.78,201.66 226.5,201.12 227.22,200.73 227.94,199.87 228.66,199.22 229.38,199.14 230.1,197.95 230.82,196.43 231.54,196.47 232.26,195.37 232.98,193.71 233.7,193.74 234.42,192.17 235.14,192.52 235.86,191.03 236.58,189.95 237.3,189.47 238.02,188.49 238.74,188.37 239.46,187.63 240.18,186.74 240.9,185.4 241.62,182.39 242.34,183.88 243.06,181.43 243.78,182.42 244.5,182.84 245.22,181.59 245.94,180.5 246.66,180.25 247.38,180 248.1,179.28 248.82,178.98 249.54,178.3 250.26,180.82 250.98,179.42 251.7,180.78 252.42,179.68 253.14,178.1 253.87,176.11 254.59,176.06 255.31,176.32 256.03,175.31 256.75,173.8 257.47,173.54 258.19,177.21 258.91,174.49 259.63,174.56 260.35,176.91 261.07,175.54 261.79,174.3 262.51,172.61 263.23,175.94 263.95,173.09 264.67,173.07 265.39,171.84 266.11,169.77 266.83,169.71 267.55,172.35 268.27,172.25 268.99,171.18 269.71,169.63 270.43,169.04 271.15,170.86 271.87,169 272.59,172.92 273.31,173.36 274.03,176.15 274.75,172.93 275.47,170.5 276.19,170.05 276.91,165.79 277.63,170.54 278.35,171.24 279.07,173.15 279.79,172.58 280.51,172.55 281.23,171.94 281.95,172.7 282.67,174.03 283.39,169.84 284.11,170.85 284.83,169.29 285.55,174.29 286.27,173.75 286.99,172.84 287.71,169.58 288.43,171.86 289.15,171.18 289.87,171.69 290.59,171.24 291.31,172.41 292.03,170.88 292.75,172.96 293.47,171.93 294.19,171.04 294.91,171.33 295.63,170.78 296.35,172.86 297.07,171.05 297.79,171.99 298.51,170.83 299.23,169 299.95,172.99 300.67,169.7 301.39,172.6 302.11,172.16 302.83,168.69 303.55,169.87 304.27,170.58 304.99,170.06 305.71,169.45 306.43,172.66 307.15,171.01 307.87,172.05 308.59,170.68 309.31,171.91 310.03,170.13 310.75,171.35 311.47,172.37 312.19,171.47 312.91,170.62 313.63,169.56 314.35,171.67 315.07,171.97 315.79,170.96 316.51,170.1 317.23,172.3 317.95,175.56 318.67,170.88 319.39,171.96 320.11,172.02 320.83,167.08 321.56,171.6 322.28,170.2 323,173.72 323.72,170.96 324.44,170.08 325.16,171.02 325.88,171.67 326.6,170.45 327.32,171.3 328.04,169.12 328.76,171.01 329.48,172.69 330.2,174.7 330.92,172.58 331.64,171.85 332.36,173.38 333.08,173.1 333.8,174.19 334.52,173.21 335.24,171.19 335.96,171.82 336.68,171.69 337.4,171.9 338.12,171.73 338.84,170.08 339.56,167.86 340.28,170.26 341,167.99 341.72,171.5 342.44,171.4 343.16,168.58 343.88,172.55 344.6,172.85 345.32,171.55 346.04,174.19 346.76,174.53 347.48,169.36 348.2,173.13 348.92,172.13 349.64,172.09 350.36,172.96 351.08,170.18 351.8,170.39 352.52,170 353.24,170.12 353.96,171.22 354.68,168.95 355.4,169.63" fill="none" stroke="#383838" stroke-width="1.5" stroke-linejoin="round"/>
<polyline clip-path="url(#ce)" points="219.3,185.81 220.02,184.76 220.74,184.73 221.46,182.11 222.18,182.7 222.9,182.48 223.62,182.41 224.34,181.21 225.06,182 225.78,180.44 226.5,179.88 227.22,179.23 227.94,179.25 228.66,177.41 229.38,178.36 230.1,177.03 230.82,176.05 231.54,175.26 232.26,175.11 232.98,175 233.7,174.28 234.42,173.06 235.14,173.34 235.86,171.92 236.58,173.05 237.3,170.9 238.02,167.5 238.74,172.45 239.46,170.3 240.18,168.06 240.9,169.36 241.62,167.98 242.34,173.11 243.06,170.25 243.78,166.34 244.5,170.33 245.22,168.53 245.94,172.91 246.66,167.28 247.38,165.01 248.1,169.38 248.82,168.59 249.54,168.45 250.26,165.18 250.98,170.04 251.7,172.39 252.42,165.6 253.14,171.43 253.87,168.12 254.59,173.64 255.31,170.01 256.03,168.82 256.75,171.27 257.47,170.16 258.19,168.03 258.91,170.5 259.63,168.17 260.35,165.74 261.07,172.98 261.79,168.46 262.51,167.96 263.23,169.75 263.95,166.14 264.67,166.51 265.39,168.14 266.11,168.1 266.83,169.23 267.55,171.23 268.27,168.18 268.99,170.03 269.71,170.24 270.43,167.02 271.15,169.53 271.87,167.29 272.59,171.12 273.31,169.96 274.03,169.12 274.75,166.53 275.47,169.31 276.19,167.62 276.91,170.44 277.63,168.86 278.35,167.54 279.07,170.86 279.79,170.47 280.51,167.96 281.23,171.31 281.95,168.52 282.67,168.5 283.39,169.33 284.11,167.65 284.83,168.25 285.55,168.78 286.27,172.01 286.99,171.96 287.71,168.6 288.43,172.17 289.15,169.01 289.87,169.82 290.59,170.78 291.31,169.65 292.03,173.7 292.75,169.55 293.47,166.8 294.19,171.58 294.91,168.3 295.63,168.51 296.35,163.37 297.07,171 297.79,170.65 298.51,170.62 299.23,170.96 299.95,172.32 300.67,169 301.39,170.88 302.11,167.67 302.83,168.41 303.55,171.11 304.27,169.84 304.99,166.54 305.71,169.78 306.43,168.74 307.15,167.53 307.87,169.92 308.59,168.32 309.31,166.09 310.03,166.97 310.75,172.46 311.47,166.2 312.19,169.5 312.91,170.24 313.63,170.29 314.35,166.73 315.07,168.45 315.79,169.33 316.51,170.58 317.23,167.82 317.95,166.83 318.67,170.96 319.39,171.15 320.11,169.74 320.83,167.87 321.56,169.81 322.28,169.24 323,170.62 323.72,166.64 324.44,169.24 325.16,168.71 325.88,166.89 326.6,169.42 327.32,169.07 328.04,168.22 328.76,169.75 329.48,166.28 330.2,168.89 330.92,169.81 331.64,169.52 332.36,171.03 333.08,166.68 333.8,166.09 334.52,169.42 335.24,169.83 335.96,173.01 336.68,170.13 337.4,167.28 338.12,170.49 338.84,167.33 339.56,166.1 340.28,173.92 341,169.56 341.72,170.3 342.44,170 343.16,172.39 343.88,169.46 344.6,171.24 345.32,166.95 346.04,166.25 346.76,171.63 347.48,171.72 348.2,169.87 348.92,169.33 349.64,169.21 350.36,167.57 351.08,171.83 351.8,170.14 352.52,169.84 353.24,169.59 353.96,170.87 354.68,169.83 355.4,170.29" fill="none" stroke="#f02828" stroke-width="1.5" stroke-linejoin="round"/>
<polyline clip-path="url(#ce)" points="219.3,175.8 220.02,177.47 220.74,179.2 221.46,175.23 222.18,175.28 222.9,176.2 223.62,175.89 224.34,175.02 225.06,171.45 225.78,174.01 226.5,171.17 227.22,171.25 227.94,172.89 228.66,171.24 229.38,172.51 230.1,175.79 230.82,171.82 231.54,171.48 232.26,168.5 232.98,168.63 233.7,167.63 234.42,168.25 235.14,166.84 235.86,167.47 236.58,168.37 237.3,166.7 238.02,165.8 238.74,165.89 239.46,169.63 240.18,168.78 240.9,170.76 241.62,170.77 242.34,167.86 243.06,169.93 243.78,165.51 244.5,173.24 245.22,170.95 245.94,167.97 246.66,165.94 247.38,169.2 248.1,164.41 248.82,166.72 249.54,169.98 250.26,168.54 250.98,167.33 251.7,170.39 252.42,166.15 253.14,168.97 253.87,167.29 254.59,166.54 255.31,169.33 256.03,166.22 256.75,172.39 257.47,167.08 258.19,172.57 258.91,165.99 259.63,169.61 260.35,165.75 261.07,165.45 261.79,168.64 262.51,169.75 263.23,165.57 263.95,170.82 264.67,166.58 265.39,168.56 266.11,169.09 266.83,169.54 267.55,164.43 268.27,171.72 268.99,169.46 269.71,167.34 270.43,166.06 271.15,164.62 271.87,165.33 272.59,169.4 273.31,167.5 274.03,165.81 274.75,167.09 275.47,171.56 276.19,167.5 276.91,166.96 277.63,171.09 278.35,169.19 279.07,168.29 279.79,166.89 280.51,164.86 281.23,165.67 281.95,167.15 282.67,167.7 283.39,168.92 284.11,169.32 284.83,168.61 285.55,168.59 286.27,165.97 286.99,163.51 287.71,166.98 288.43,166.04 289.15,166.67 289.87,167.47 290.59,165.39 291.31,165.66 292.03,167.8 292.75,168.25 293.47,166.59 294.19,169.04 294.91,167.5 295.63,165.77 296.35,168.03 297.07,171.95 297.79,166.47 298.51,170.4 299.23,170.84 299.95,171.09 300.67,166.11 301.39,172.17 302.11,168.09 302.83,167.29 303.55,167.33 304.27,169.1 304.99,167.9 305.71,167.4 306.43,170.52 307.15,166.21 307.87,165.51 308.59,169.44 309.31,169.23 310.03,170.05 310.75,165.4 311.47,169.99 312.19,168.69 312.91,171.41 313.63,164.95 314.35,168.07 315.07,166.99 315.79,164.16 316.51,166.01 317.23,169.94 317.95,166.5 318.67,165.94 319.39,169.34 320.11,169.58 320.83,169.56 321.56,165.72 322.28,167.27 323,169.6 323.72,165.95 324.44,165.73 325.16,169.11 325.88,170.67 326.6,164.81 327.32,161.67 328.04,164.13 328.76,165.05 329.48,166.92 330.2,168.53 330.92,166.86 331.64,165.65 332.36,167.48 333.08,165.05 333.8,167.01 334.52,165.7 335.24,172.87 335.96,168.82 336.68,165.23 337.4,164.86 338.12,166.05 338.84,163.41 339.56,165.38 340.28,165.34 341,168.84 341.72,165.98 342.44,165.17 343.16,163.96 343.88,164.29 344.6,166.69 345.32,166.35 346.04,169.27 346.76,165.41 347.48,169.07 348.2,167.3 348.92,166.71 349.64,162.33 350.36,163.87 351.08,168.29 351.8,169.7 352.52,167.08 353.24,168.28 353.96,165.71 354.68,165.77 355.4,165.11" fill="none" stroke="#1f66e8" stroke-width="1.5" stroke-linejoin="round"/>
<rect x="219.3" y="138.5" width="136.09999999999997" height="78.19999999999999" fill="none" stroke="#909090" stroke-width="1"/>
<line x1="217.3" y1="216.7" x2="219.3" y2="216.7" stroke="#909090" stroke-width="1"/>
<text x="217.8" y="220.8" text-anchor="end" class="tk">0.0</text>
<line x1="217.3" y1="198.3" x2="219.3" y2="198.3" stroke="#909090" stroke-width="1"/>
<text x="217.8" y="202.4" text-anchor="end" class="tk">0.4</text>
<line x1="217.3" y1="179.9" x2="219.3" y2="179.9" stroke="#909090" stroke-width="1"/>
<text x="217.8" y="184" text-anchor="end" class="tk">0.8</text>
<line x1="217.3" y1="161.5" x2="219.3" y2="161.5" stroke="#909090" stroke-width="1"/>
<text x="217.8" y="165.6" text-anchor="end" class="tk">1.2</text>
<line x1="217.3" y1="143.1" x2="219.3" y2="143.1" stroke="#909090" stroke-width="1"/>
<text x="217.8" y="147.2" text-anchor="end" class="tk">1.6</text>
<line x1="219.3" y1="216.7" x2="219.3" y2="218.7" stroke="#909090" stroke-width="1"/>
<text x="219.3" y="227.9" text-anchor="middle" class="tk">0</text>
<line x1="264.67" y1="216.7" x2="264.67" y2="218.7" stroke="#909090" stroke-width="1"/>
<text x="264.67" y="227.9" text-anchor="middle" class="tk">5</text>
<line x1="310.03" y1="216.7" x2="310.03" y2="218.7" stroke="#909090" stroke-width="1"/>
<text x="310.03" y="227.9" text-anchor="middle" class="tk">10</text>
<line x1="355.4" y1="216.7" x2="355.4" y2="218.7" stroke="#909090" stroke-width="1"/>
<text x="355.4" y="227.9" text-anchor="middle" class="tk">15</text>
<text x="288.15" y="238.7" text-anchor="middle" class="xl">Frequency (Hz)</text>
<text transform="translate(198.5,179.4) rotate(-90) skewX(-16)" text-anchor="middle" class="yl">NPLV<tspan class="sb" dy="1.8" dx="-0.8">m</tspan></text>
<text x="274.05" y="259.2" text-anchor="middle" class="pl">(<tspan font-weight="bold">e</tspan>)</text>
<clipPath id="cf"><rect x="406.5" y="138.5" width="136.0" height="78.19999999999999"/></clipPath>
<polyline clip-path="url(#cf)" points="406.5,214.08 407.22,213.26 407.94,212.46 408.66,211.79 409.38,211.38 410.1,209.9 410.82,208.23 411.54,207.3 412.26,205.57 412.98,203.77 413.7,202.2 414.42,200.3 415.13,198.27 415.85,196.52 416.57,194.24 417.29,192.4 418.01,190.03 418.73,189.07 419.45,186.2 420.17,185.09 420.89,182.76 421.61,181.53 422.33,180.62 423.05,178.87 423.77,177.12 424.49,177.01 425.21,175.39 425.93,175.3 426.65,173.6 427.37,174.16 428.09,173.23 428.81,172.34 429.53,172.36 430.25,172.07 430.97,171.99 431.69,171.86 432.4,170.64 433.12,170.03 433.84,171.06 434.56,168.34 435.28,168.99 436,170.77 436.72,166.14 437.44,167.85 438.16,168.93 438.88,166.18 439.6,170.38 440.32,164.36 441.04,168.87 441.76,168.85 442.48,167.93 443.2,166.41 443.92,166.95 444.64,165.29 445.36,167.27 446.08,164.76 446.8,165.68 447.52,167.14 448.24,164.38 448.96,165.19 449.67,165.72 450.39,163.7 451.11,166.73 451.83,165.57 452.55,163.11 453.27,164.81 453.99,163.73 454.71,163.7 455.43,164.43 456.15,163.27 456.87,165.18 457.59,162.92 458.31,164.85 459.03,163.39 459.75,164.44 460.47,162.49 461.19,162.46 461.91,161.5 462.63,163.77 463.35,164.19 464.07,165.73 464.79,164.51 465.51,163.01 466.22,162.3 466.94,163.16 467.66,162.54 468.38,164.7 469.1,163.93 469.82,161.33 470.54,161.54 471.26,164.52 471.98,162.97 472.7,162.17 473.42,164.23 474.14,161.93 474.86,162.07 475.58,161.8 476.3,159.6 477.02,163.71 477.74,160.68 478.46,161.6 479.18,161.33 479.9,163.49 480.62,162.33 481.34,162.45 482.06,159.97 482.78,162.31 483.49,160.27 484.21,162.89 484.93,162.98 485.65,162.42 486.37,165.44 487.09,163.22 487.81,163.33 488.53,162.66 489.25,162.17 489.97,163.88 490.69,164.08 491.41,160.56 492.13,164.01 492.85,163.22 493.57,163.88 494.29,163.16 495.01,160.65 495.73,160.76 496.45,165.16 497.17,162.86 497.89,160.41 498.61,163 499.33,161.96 500.04,159.8 500.76,159.14 501.48,160.15 502.2,162.9 502.92,162.44 503.64,162.14 504.36,162.93 505.08,163.39 505.8,159.44 506.52,162.08 507.24,161.31 507.96,160.72 508.68,161.73 509.4,162.35 510.12,162.14 510.84,160.41 511.56,161.83 512.28,165.49 513,161 513.72,160.08 514.44,162.95 515.16,163.42 515.88,163.23 516.6,160.92 517.31,164.02 518.03,161.41 518.75,160.9 519.47,161.68 520.19,162.41 520.91,163.62 521.63,163.49 522.35,162.54 523.07,163.94 523.79,162.7 524.51,163.9 525.23,160.53 525.95,160.29 526.67,163.73 527.39,160.56 528.11,162.16 528.83,162.46 529.55,161.89 530.27,161.94 530.99,164.64 531.71,158.91 532.43,163.91 533.15,165.97 533.87,162.65 534.58,162.59 535.3,163.69 536.02,165.3 536.74,160.89 537.46,162.76 538.18,162.36 538.9,163.45 539.62,162.87 540.34,163.61 541.06,162.03 541.78,162.72 542.5,161.67" fill="none" stroke="#383838" stroke-width="1.5" stroke-linejoin="round"/>
<polyline clip-path="url(#cf)" points="406.5,214.36 407.22,205.27 407.94,192.16 408.66,179.57 409.38,171.91 410.1,166.01 410.82,161.25 411.54,159.57 412.26,159.91 412.98,161.3 413.7,159.84 414.42,159.27 415.13,158.53 415.85,157.14 416.57,157.22 417.29,159.11 418.01,153.05 418.73,156.42 419.45,156.93 420.17,154.53 420.89,153.95 421.61,159.44 422.33,155.39 423.05,159.18 423.77,156.68 424.49,155.89 425.21,156.54 425.93,156.8 426.65,157.71 427.37,156.47 428.09,155.98 428.81,156.03 429.53,157.99 430.25,157.09 430.97,154.05 431.69,154.66 432.4,156.27 433.12,154.67 433.84,155.08 434.56,154.11 435.28,155.27 436,156.41 436.72,157.36 437.44,155.71 438.16,159.16 438.88,155.56 439.6,161.02 440.32,157.36 441.04,156.51 441.76,154.84 442.48,150.95 443.2,155.41 443.92,155.97 444.64,158.88 445.36,153.36 446.08,158.85 446.8,155.24 447.52,156.86 448.24,151.4 448.96,155.88 449.67,155.07 450.39,156.78 451.11,155.79 451.83,153.72 452.55,157.22 453.27,156.79 453.99,156.62 454.71,157.31 455.43,157.46 456.15,155.58 456.87,153.34 457.59,153.29 458.31,157.87 459.03,156.79 459.75,155.77 460.47,154.87 461.19,155.65 461.91,155.63 462.63,155.03 463.35,154.42 464.07,159.21 464.79,155.96 465.51,154.56 466.22,153.39 466.94,154.36 467.66,156.77 468.38,156.83 469.1,155.2 469.82,155.65 470.54,155.04 471.26,153.7 471.98,157.73 472.7,156.17 473.42,159.69 474.14,154.27 474.86,155.31 475.58,157.01 476.3,155.12 477.02,153.2 477.74,153.94 478.46,155.69 479.18,156.1 479.9,155.37 480.62,157.21 481.34,157.21 482.06,156.1 482.78,155.62 483.49,155.16 484.21,156.51 484.93,157.14 485.65,155.72 486.37,156.37 487.09,155.1 487.81,153.3 488.53,153.99 489.25,156.94 489.97,156.42 490.69,158.33 491.41,155.79 492.13,157.15 492.85,157.92 493.57,157.38 494.29,154.73 495.01,155.45 495.73,155.98 496.45,154.14 497.17,156.57 497.89,157.49 498.61,155.01 499.33,159.08 500.04,155.34 500.76,155.5 501.48,155.45 502.2,154.68 502.92,156.56 503.64,155.91 504.36,158.64 505.08,156.9 505.8,156.8 506.52,155.55 507.24,153.59 507.96,155.79 508.68,154.54 509.4,157.53 510.12,155.92 510.84,158.73 511.56,157.21 512.28,157.38 513,156.39 513.72,156.37 514.44,157.11 515.16,157.57 515.88,154.88 516.6,156.88 517.31,160.4 518.03,155.94 518.75,155.67 519.47,154.96 520.19,153.73 520.91,158.09 521.63,156.24 522.35,156.64 523.07,159.2 523.79,160.3 524.51,154.72 525.23,157.93 525.95,157.23 526.67,156.87 527.39,157.01 528.11,156.2 528.83,158.86 529.55,157.27 530.27,156.83 530.99,158.33 531.71,157.76 532.43,157.06 533.15,156.85 533.87,159.21 534.58,157.17 535.3,156.19 536.02,154.94 536.74,155.8 537.46,154.65 538.18,156.56 538.9,156.81 539.62,153.04 540.34,156.44 541.06,157.49 541.78,156.71 542.5,154.88" fill="none" stroke="#f02828" stroke-width="1.5" stroke-linejoin="round"/>
<polyline clip-path="url(#cf)" points="406.5,212.15 407.22,194.7 407.94,173.56 408.66,164.46 409.38,162.68 410.1,159.27 410.82,155 411.54,152.72 412.26,154.93 412.98,154.96 413.7,154.44 414.42,154.96 415.13,152.22 415.85,154.81 416.57,155.39 417.29,153.9 418.01,154.61 418.73,152.02 419.45,150.93 420.17,152.48 420.89,155.89 421.61,155.66 422.33,152.84 423.05,156 423.77,153.1 424.49,156.59 425.21,154.64 425.93,152.88 426.65,155.25 427.37,152.27 428.09,151.97 428.81,151 429.53,154.25 430.25,153.66 430.97,153.62 431.69,152.99 432.4,156.5 433.12,152.98 433.84,152.42 434.56,156.15 435.28,156.49 436,154.44 436.72,150.51 437.44,152.67 438.16,154.98 438.88,153.85 439.6,156.77 440.32,151.24 441.04,155.12 441.76,152.65 442.48,156.35 443.2,153.71 443.92,155.81 444.64,152.63 445.36,151.2 446.08,151.77 446.8,152.73 447.52,151.94 448.24,156.16 448.96,156.42 449.67,154.41 450.39,151.94 451.11,153.68 451.83,152.61 452.55,156.66 453.27,154.51 453.99,154.83 454.71,153.14 455.43,150.09 456.15,152.44 456.87,151.78 457.59,154.6 458.31,154.08 459.03,152.37 459.75,153.15 460.47,156.86 461.19,152.07 461.91,152.14 462.63,153.45 463.35,152.55 464.07,153.07 464.79,154.89 465.51,157.16 466.22,150.5 466.94,153.84 467.66,153.95 468.38,153.71 469.1,153.51 469.82,153.22 470.54,155.77 471.26,152.98 471.98,153.62 472.7,153.86 473.42,154.06 474.14,153.53 474.86,155.75 475.58,153.83 476.3,154.18 477.02,153.75 477.74,151.94 478.46,152.27 479.18,151.85 479.9,154.2 480.62,152.48 481.34,151.82 482.06,154.29 482.78,154.83 483.49,150.49 484.21,157.04 484.93,153.89 485.65,153.62 486.37,155.85 487.09,153.95 487.81,152.67 488.53,157.98 489.25,151.78 489.97,153.63 490.69,155.42 491.41,151.78 492.13,153.61 492.85,154.54 493.57,158.36 494.29,152.11 495.01,153.71 495.73,155.05 496.45,153.95 497.17,151.51 497.89,154.57 498.61,154 499.33,154.64 500.04,155.94 500.76,155.71 501.48,154.56 502.2,154.37 502.92,151.69 503.64,153.52 504.36,154.2 505.08,153.01 505.8,153.96 506.52,152.2 507.24,156.68 507.96,157.86 508.68,153.03 509.4,154.52 510.12,153.32 510.84,156.16 511.56,154.59 512.28,153.9 513,153.33 513.72,153.99 514.44,151.85 515.16,155.03 515.88,152.39 516.6,154.76 517.31,153.99 518.03,155.82 518.75,153.71 519.47,155.68 520.19,151.98 520.91,154.89 521.63,153.31 522.35,154.1 523.07,153.87 523.79,155.51 524.51,149.89 525.23,154.34 525.95,150.88 526.67,156.01 527.39,149.97 528.11,151.81 528.83,150.53 529.55,156.83 530.27,151.26 530.99,153.93 531.71,152.69 532.43,150.28 533.15,153.06 533.87,154.96 534.58,153.35 535.3,155.49 536.02,153.01 536.74,153.71 537.46,152.96 538.18,154.34 538.9,157.3 539.62,154.38 540.34,154.06 541.06,152.51 541.78,152.24 542.5,156.47" fill="none" stroke="#1f66e8" stroke-width="1.5" stroke-linejoin="round"/>
<rect x="406.5" y="138.5" width="136.0" height="78.19999999999999" fill="none" stroke="#909090" stroke-width="1"/>
<line x1="404.5" y1="216.7" x2="406.5" y2="216.7" stroke="#909090" stroke-width="1"/>
<text x="405" y="220.8" text-anchor="end" class="tk">0.0</text>
<line x1="404.5" y1="198.3" x2="406.5" y2="198.3" stroke="#909090" stroke-width="1"/>
<text x="405" y="202.4" text-anchor="end" class="tk">0.4</text>
<line x1="404.5" y1="179.9" x2="406.5" y2="179.9" stroke="#909090" stroke-width="1"/>
<text x="405" y="184" text-anchor="end" class="tk">0.8</text>
<line x1="404.5" y1="161.5" x2="406.5" y2="161.5" stroke="#909090" stroke-width="1"/>
<text x="405" y="165.6" text-anchor="end" class="tk">1.2</text>
<line x1="404.5" y1="143.1" x2="406.5" y2="143.1" stroke="#909090" stroke-width="1"/>
<text x="405" y="147.2" text-anchor="end" class="tk">1.6</text>
<line x1="406.5" y1="216.7" x2="406.5" y2="218.7" stroke="#909090" stroke-width="1"/>
<text x="406.5" y="227.9" text-anchor="middle" class="tk">0</text>
<line x1="451.83" y1="216.7" x2="451.83" y2="218.7" stroke="#909090" stroke-width="1"/>
<text x="451.83" y="227.9" text-anchor="middle" class="tk">5</text>
<line x1="497.17" y1="216.7" x2="497.17" y2="218.7" stroke="#909090" stroke-width="1"/>
<text x="497.17" y="227.9" text-anchor="middle" class="tk">10</text>
<line x1="542.5" y1="216.7" x2="542.5" y2="218.7" stroke="#909090" stroke-width="1"/>
<text x="542.5" y="227.9" text-anchor="middle" class="tk">15</text>
<text x="475.3" y="238.7" text-anchor="middle" class="xl">Frequency (Hz)</text>
<text transform="translate(385.7,179.4) rotate(-90) skewX(-16)" text-anchor="middle" class="yl">NPLV<tspan class="sb" dy="1.8" dx="-0.8">m</tspan></text>
<text x="461.2" y="259.2" text-anchor="middle" class="pl">(<tspan font-weight="bold">f</tspan>)</text>
<rect x="117.2" y="48.6" width="44.39999999999999" height="28.1" fill="#fff" stroke="#9a9a9a" stroke-width="0.8"/>
<line x1="117.8" y1="54.0" x2="135.3" y2="54.0" stroke="#555555" stroke-width="2"/>
<text x="136.7" y="56.6" class="lg">Loop I</text>
<line x1="117.8" y1="63.0" x2="135.3" y2="63.0" stroke="#ee4444" stroke-width="2"/>
<text x="136.7" y="65.6" class="lg">Loop M</text>
<line x1="117.8" y1="72.0" x2="135.3" y2="72.0" stroke="#2870e4" stroke-width="2"/>
<text x="136.7" y="74.6" class="lg">Loop O</text>
</svg>
</body></html>
